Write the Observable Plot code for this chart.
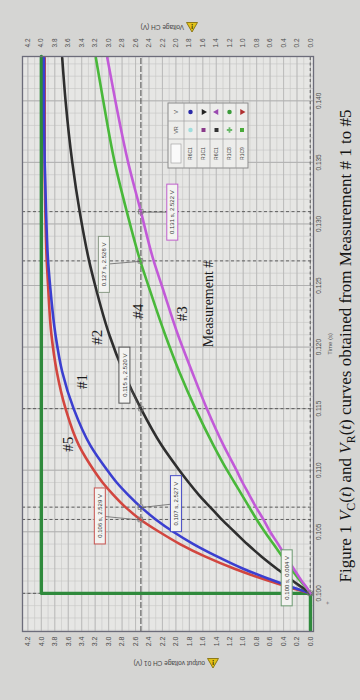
<!DOCTYPE html>
<html><head><meta charset="utf-8">
<script src="https://cdn.jsdelivr.net/npm/d3@7"></script>
<script src="https://cdn.jsdelivr.net/npm/@observablehq/plot@0.6"></script>
<style>
html,body{margin:0;padding:0;background:#d5d5d3;overflow:hidden;width:360px;height:700px}
#rot{position:absolute;left:0;top:0;width:700px;height:360px;transform-origin:0 0;transform:translate(0,700px) rotate(-90deg);}
#cap{width:700px;height:22px;line-height:19px;text-align:center;font-family:"Liberation Serif","Times New Roman",serif;font-size:17px;color:#151515;white-space:nowrap;padding-left:8px;box-sizing:border-box}
#cap sub{font-size:0.7em;line-height:0}
</style></head>
<body>
<div id="rot"><div id="chart"></div><div id="cap">Figure 1 <i>V</i><sub>C</sub>(<i>t</i>) and <i>V</i><sub>R</sub>(<i>t</i>) curves obtained from Measurement # 1 to #5</div></div>
<script>
// ---- data ----
const times = [0.1000, 0.1005, 0.1010, 0.1020, 0.1030, 0.1040, 0.1050, 0.1060, 0.1070, 0.1080, 0.1090, 0.1100, 0.1120, 0.1150, 0.1180, 0.1210, 0.1250, 0.1270, 0.1310, 0.1350, 0.1400, 0.1435];
const m5 = [0.00, 0.32, 0.61, 1.13, 1.57, 1.94, 2.25, 2.53, 2.75, 2.93, 3.09, 3.22, 3.44, 3.64, 3.77, 3.85, 3.90, 3.92, 3.94, 3.95, 3.95, 3.95];
const m1 = [0.00, 0.27, 0.53, 1.00, 1.39, 1.74, 2.04, 2.30, 2.52, 2.71, 2.88, 3.02, 3.27, 3.52, 3.69, 3.79, 3.87, 3.90, 3.93, 3.95, 3.96, 3.96];
const m2 = [0.00, 0.13, 0.26, 0.50, 0.73, 0.94, 1.13, 1.32, 1.49, 1.66, 1.81, 1.95, 2.21, 2.52, 2.78, 2.99, 3.20, 3.29, 3.43, 3.54, 3.64, 3.69];
const m4 = [0.00, 0.07, 0.15, 0.29, 0.42, 0.55, 0.68, 0.80, 0.91, 1.02, 1.13, 1.24, 1.44, 1.71, 1.95, 2.16, 2.41, 2.53, 2.73, 2.91, 3.08, 3.19];
const m3 = [0.00, 0.06, 0.13, 0.25, 0.37, 0.48, 0.60, 0.70, 0.81, 0.91, 1.01, 1.10, 1.29, 1.54, 1.76, 1.97, 2.21, 2.33, 2.52, 2.71, 2.90, 3.02];
const seriesNames = ["#5", "#1", "#2", "#4", "#3"];
const seriesColors = ["#d2463f", "#3b3fd0", "#2e2e2e", "#49b83a", "#c25ad8"];
const srcT = [0.0970, 0.1000, 0.1000, 0.1436];
const srcV = [0.00, 0.00, 4.00, 4.00];
const markT = [0.100, 0.106, 0.107, 0.115, 0.127, 0.131];
const markV = [0.004, 2.529, 2.527, 2.520, 2.528, 2.522];
const markText = ["0.100 s, 0.004 V", "0.106 s, 2.529 V", "0.107 s, 2.527 V", "0.115 s, 2.520 V", "0.127 s, 2.528 V", "0.131 s, 2.522 V"];
const timeTicks = [0.100, 0.105, 0.110, 0.115, 0.120, 0.125, 0.130, 0.135, 0.140];
const voltTicks = [0.0, 0.2, 0.4, 0.6, 0.8, 1.0, 1.2, 1.4, 1.6, 1.8, 2.0, 2.2, 2.4, 2.6, 2.8, 3.0, 3.2, 3.4, 3.6, 3.8, 4.0, 4.2];
const labelText = ["#5", "#1", "#2", "#4", "#3", "Measurement #"];
const labelT = [0.1121, 0.1172, 0.1208, 0.1229, 0.1227, 0.1235];
const labelV = [3.60, 3.39, 3.17, 2.556, 1.90, 1.515];
const legendRows = ["R6C1", "R1C1", "R6C1", "R1C8", "R1C9"];
const legendHead = ["VR", "V"];

// ---- build tables ----
const curveRows = [];
[m5, m1, m2, m4, m3].forEach((arr, s) => arr.forEach((v, i) => curveRows.push({t: times[i], v, s: seriesNames[s]})));
const srcRows = srcT.map((t, i) => ({t, v: srcV[i]}));
const minorT = d3.range(97, 144).map(d => d / 1000);
const minorV = d3.range(0, 43).map(d => d / 10);

const markColor = ["#6c9a72", "#c85450", "#4a4fc8", "#555555", "#8a9a86", "#c060cc"];
const mdx = [16, 4, 4, 34, -3, 0], mdy = [-23, -40, 36, -16, -36, 32];
const labelSize = [15, 15, 15, 15, 15, 14];

const chart = Plot.plot({
  width: 700, height: 336,
  marginLeft: 68, marginRight: 57, marginTop: 22, marginBottom: 23,
  style: {background: "transparent", fontFamily: "'Liberation Sans', Arial, sans-serif", color: "#4a4a4a"},
  x: {domain: [0.0969, 0.1436]},
  y: {domain: [-0.045, 4.28]},
  color: {domain: seriesNames, range: seriesColors},
  marks: [
    Plot.frame({fill: "#e6e6e4", stroke: null}),
    Plot.gridX(minorT, {stroke: "#c6c6c4", strokeOpacity: 1, strokeWidth: 0.6}),
    Plot.gridY(minorV, {stroke: "#c6c6c4", strokeOpacity: 1, strokeWidth: 0.6}),
    Plot.gridX(timeTicks, {stroke: "#a8a8a8", strokeOpacity: 1, strokeWidth: 0.8}),
    Plot.gridY(voltTicks, {stroke: "#b2b2b2", strokeOpacity: 1, strokeWidth: 0.7}),
    Plot.axisX({ticks: timeTicks, tickFormat: d3.format(".3f"), tickSize: 0, tickPadding: 3, fontSize: 6.5, label: null}),
    Plot.axisY({ticks: voltTicks, tickFormat: d3.format(".1f"), tickSize: 0, tickPadding: 5, fontSize: 7, label: null}),
    Plot.axisY({anchor: "right", ticks: voltTicks, tickFormat: d3.format(".1f"), tickSize: 0, tickPadding: 9, fontSize: 6.5, label: null}),
    Plot.ruleX(markT, {stroke: "#505050", strokeWidth: 0.9, strokeDasharray: "3,2.5"}),
    Plot.ruleY([2.52], {stroke: "#4a4a4a", strokeWidth: 1, strokeDasharray: "6,2"}),
    Plot.ruleY([0.004], {stroke: "#505050", strokeWidth: 0.9, strokeDasharray: "3,2.5"}),
    Plot.line(srcRows, {x: "t", y: "v", stroke: "#2f8a3c", strokeWidth: 3.4}),
    Plot.line(curveRows, {x: "t", y: "v", z: "s", stroke: "s", strokeWidth: 2.6, curve: "monotone-x"}),
    Plot.dot(markT.map((t, i) => ({t, v: markV[i]})), {x: "t", y: "v", symbol: "square", r: 2.6, stroke: "#777", strokeWidth: 0.8, fill: "none"}),
    Plot.text(labelText.map((s, i) => ({s, t: labelT[i], v: labelV[i], f: labelSize[i]})), {x: "t", y: "v", text: "s", fontSize: d => d.f, fontFamily: "'Liberation Serif', serif", fill: "#1a1a1a"}),
    Plot.frame({stroke: "#6c6c7a", strokeWidth: 1.3})
  ]
});
document.getElementById("chart").appendChild(chart);

// ---- annotations drawn with the plot's scales ----
const svg = d3.select(chart);
const xs = chart.scale("x"), ys = chart.scale("y");
const gM = svg.append("g").attr("font-family", "'Liberation Sans', Arial, sans-serif").attr("font-size", 6);
markT.forEach((t, i) => {
  const px = xs.apply(t), py = ys.apply(markV[i]);
  const bx = px + mdx[i], by = py + mdy[i];
  gM.append("line").attr("x1", px).attr("y1", py).attr("x2", bx).attr("y2", by).attr("stroke", "#555").attr("stroke-width", 0.7);
  const w = 56, h = 11;
  gM.append("rect").attr("x", bx - w / 2).attr("y", by - h / 2).attr("width", w).attr("height", h)
    .attr("fill", "#f3f3f1").attr("stroke", markColor[i]).attr("stroke-width", 1);
  gM.append("text").attr("x", bx).attr("y", by).attr("text-anchor", "middle").attr("dy", "0.35em").attr("fill", "#333").text(markText[i]);
});

// legend table
const gL = svg.append("g").attr("font-family", "'Liberation Sans', Arial, sans-serif");
const lx = [532, 561, 579, 597], ly = [168, 184, 197, 210, 223, 236, 248];
gL.append("rect").attr("x", lx[0]).attr("y", ly[0]).attr("width", lx[3] - lx[0]).attr("height", ly[6] - ly[0]).attr("fill", "#ededeb").attr("stroke", "#8a8a8a").attr("stroke-width", 1);
lx.slice(1, 3).forEach(x => gL.append("line").attr("x1", x).attr("x2", x).attr("y1", ly[0]).attr("y2", ly[6]).attr("stroke", "#a0a0a0").attr("stroke-width", 0.7));
ly.slice(1, 6).forEach(y => gL.append("line").attr("x1", lx[0]).attr("x2", lx[3]).attr("y1", y).attr("y2", y).attr("stroke", "#a0a0a0").attr("stroke-width", 0.7));
gL.append("rect").attr("x", 537).attr("y", 171).attr("width", 19).attr("height", 10).attr("fill", "#fafafa").attr("stroke", "#999").attr("stroke-width", 0.6);
legendHead.forEach((h, j) => gL.append("text").attr("x", (lx[j + 1] + lx[j + 2]) / 2).attr("y", (ly[0] + ly[1]) / 2).attr("dy", "0.35em").attr("text-anchor", "middle").attr("font-size", 5.5).attr("fill", "#555").text(h));
const symV = [[d3.symbolCircle, "#2a2aa8", 0], [d3.symbolTriangle, "#222", 180], [d3.symbolTriangle, "#9a4ab0", 0], [d3.symbolCircle, "#3a9a3a", 0], [d3.symbolTriangle, "#b03030", 180]];
const symR = [[d3.symbolCircle, "#9fdede", 0], [d3.symbolSquare, "#8a3a8a", 0], [d3.symbolSquare, "#333", 0], [d3.symbolCross, "#6ab86a", 0], [d3.symbolSquare, "#4aaa3a", 0]];
legendRows.forEach((r, i) => {
  const cy = (ly[i + 1] + ly[i + 2]) / 2;
  gL.append("text").attr("x", (lx[0] + lx[1]) / 2).attr("y", cy).attr("dy", "0.35em").attr("text-anchor", "middle").attr("font-size", 5).attr("fill", "#444").text(r);
  [[symR[i], (lx[1] + lx[2]) / 2], [symV[i], (lx[2] + lx[3]) / 2]].forEach(([s, cx]) => {
    gL.append("path").attr("d", d3.symbol(s[0], 16)()).attr("transform", `translate(${cx},${cy}) rotate(${s[2]})`).attr("fill", s[1]);
  });
});

// axis titles with warning icons
function axisTitle(x, y, txt) {
  const g = svg.append("g").attr("transform", `translate(${x},${y}) rotate(-90)`);
  g.append("polygon").attr("points", "0,-5 5.5,4.5 -5.5,4.5").attr("fill", "#e2c21a").attr("stroke", "#7a6400").attr("stroke-width", 0.8);
  g.append("text").attr("x", 0).attr("y", 3.5).attr("text-anchor", "middle").attr("font-size", 7).attr("font-weight", "bold").attr("fill", "#3a3000").text("!");
  g.append("text").attr("x", 8).attr("y", 0).attr("dy", "0.35em").attr("text-anchor", "start").attr("font-size", 6.5).attr("fill", "#444")
    .attr("font-family", "'Liberation Sans', Arial, sans-serif").text(txt);
}
axisTitle(37, 213, "output voltage CH 01 (V)");
axisTitle(673, 192, "Voltage CH (V)");
svg.append("text").attr("x", xs.apply(0.1203)).attr("y", 330).attr("dy", "0.35em").attr("text-anchor", "middle").attr("font-size", 6).attr("fill", "#555").attr("font-family", "'Liberation Sans', Arial, sans-serif").text("Time (s)");
svg.append("text").attr("x", 97).attr("y", 327).attr("dy", "0.35em").attr("text-anchor", "middle").attr("font-size", 6).attr("fill", "#666").text("+");
</script>
</body></html>
